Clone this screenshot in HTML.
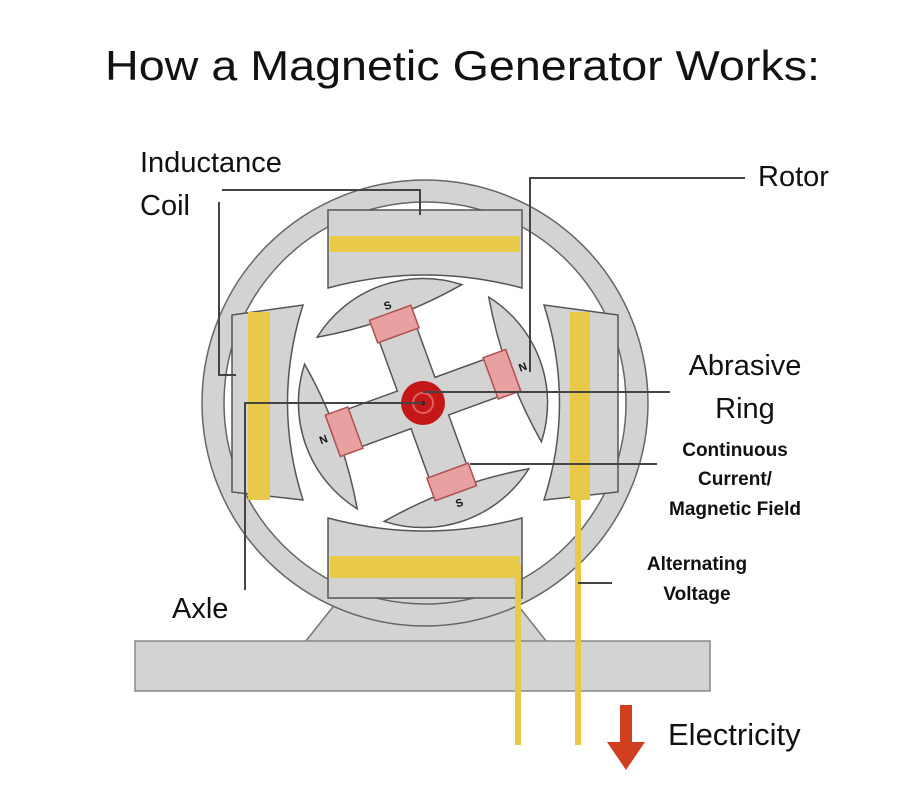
<!DOCTYPE html>
<html><head><style>
html,body{margin:0;padding:0;background:#fff;}
svg{display:block;}
text{font-family:"Liberation Sans",sans-serif;fill:#111;}
</style></head><body>
<svg width="900" height="792" viewBox="0 0 900 792" xmlns="http://www.w3.org/2000/svg">
<text x="105" y="80" font-size="42" textLength="715" lengthAdjust="spacingAndGlyphs">How a Magnetic Generator Works:</text>

<!-- foot and base -->
<path d="M305 642 L340 598 L512 598 L547 642 Z" fill="#d3d3d3" stroke="#777" stroke-width="1.5"/>
<rect x="135" y="641" width="575" height="50" fill="#d3d3d3" stroke="#888" stroke-width="1.5"/>

<!-- outer ring -->
<circle cx="425" cy="403" r="212" fill="none" stroke="#d3d3d3" stroke-width="22"/>
<circle cx="425" cy="403" r="223" fill="none" stroke="#666" stroke-width="1.5"/>
<circle cx="425" cy="403" r="201" fill="none" stroke="#666" stroke-width="1.5"/>

<!-- stator poles -->
<g fill="#d3d3d3" stroke="#555" stroke-width="1.5">
<path d="M328 210 L522 210 L522 288 Q425 262 328 288 Z"/>
<path d="M328 598 L522 598 L522 518 Q425 544 328 518 Z"/>
<path d="M232 315 L303 305 Q272 403 303 500 L232 492 Z"/>
<path d="M618 315 L544 305 Q575 403 544 500 L618 492 Z"/>
</g>
<g fill="#e8c94a">
<rect x="330" y="236" width="190" height="16"/>
<rect x="330" y="556" width="190" height="22"/>
<rect x="248" y="312" width="22" height="188"/>
<rect x="570" y="312" width="20" height="188"/>
</g>

<!-- rotor -->
<g transform="translate(423 403) rotate(-20)" stroke="#555" stroke-width="1.5" fill="#d3d3d3">
<path d="M-20 -20 L-20 -100 L20 -100 L20 -20 L100 -20 L100 20 L20 20 L20 100 L-20 100 L-20 20 L-100 20 L-100 -20 Z"/>
<path d="M-77 -98 A125 125 0 0 1 77 -98 Q0 -85 -77 -98 Z"/>
<path transform="rotate(90)" d="M-77 -98 A125 125 0 0 1 77 -98 Q0 -85 -77 -98 Z"/>
<path transform="rotate(180)" d="M-77 -98 A125 125 0 0 1 77 -98 Q0 -85 -77 -98 Z"/>
<path transform="rotate(270)" d="M-77 -98 A125 125 0 0 1 77 -98 Q0 -85 -77 -98 Z"/>
<g stroke="none">
<rect x="-19" y="-97" width="38" height="80"/>
<rect x="-19" y="17" width="38" height="80"/>
<rect x="17" y="-19" width="80" height="38"/>
<rect x="-97" y="-19" width="80" height="38"/>
</g>
<g fill="#e8a0a0" stroke="#b05050">
<rect x="-22" y="-96" width="44" height="24"/>
<rect x="-22" y="72" width="44" height="24"/>
<rect x="72" y="-22" width="24" height="44"/>
<rect x="-96" y="-22" width="24" height="44"/>
</g>
<g font-size="11" font-weight="bold" fill="#111" stroke="none" text-anchor="middle">
<text x="0" y="-100">S</text><text x="0" y="110">S</text>
<text x="106" y="4">N</text><text x="-106" y="4">N</text>
</g>
</g>
<circle cx="423" cy="403" r="22" fill="#c41818"/>
<circle cx="423" cy="403" r="10" fill="none" stroke="#e06060" stroke-width="2"/>
<circle cx="423" cy="403" r="2" fill="#222"/>

<!-- yellow wires -->
<g stroke="#e8c94a" stroke-width="6">
<line x1="518" y1="565" x2="518" y2="745"/>
<line x1="578" y1="500" x2="578" y2="745"/>
</g>

<!-- leader lines -->
<g stroke="#444" stroke-width="2" fill="none">
<polyline points="222,190 420,190 420,215"/>
<polyline points="219,202 219,375 236,375"/>
<polyline points="745,178 530,178 530,372"/>
<line x1="423" y1="392" x2="670" y2="392"/>
<polyline points="423,403 245,403 245,590"/>
<line x1="470" y1="464" x2="657" y2="464"/>
<line x1="578" y1="583" x2="612" y2="583"/>
</g>

<!-- arrow -->
<path d="M620 705 L632 705 L632 742 L645 742 L626 770 L607 742 L620 742 Z" fill="#d04020"/>

<!-- labels -->
<g font-size="29">
<text x="140" y="172">Inductance</text>
<text x="140" y="215">Coil</text>
<text x="758" y="186">Rotor</text>
<text x="745" y="375" text-anchor="middle">Abrasive</text>
<text x="745" y="418" text-anchor="middle">Ring</text>
<text x="172" y="618">Axle</text>
<text x="668" y="745" font-size="31">Electricity</text>
</g>
<g font-size="19" font-weight="bold">
<text x="735" y="456" text-anchor="middle">Continuous</text>
<text x="735" y="485" text-anchor="middle">Current/</text>
<text x="735" y="515" text-anchor="middle">Magnetic Field</text>
<text x="697" y="570" text-anchor="middle">Alternating</text>
<text x="697" y="600" text-anchor="middle">Voltage</text>
</g>
</svg>
</body></html>
